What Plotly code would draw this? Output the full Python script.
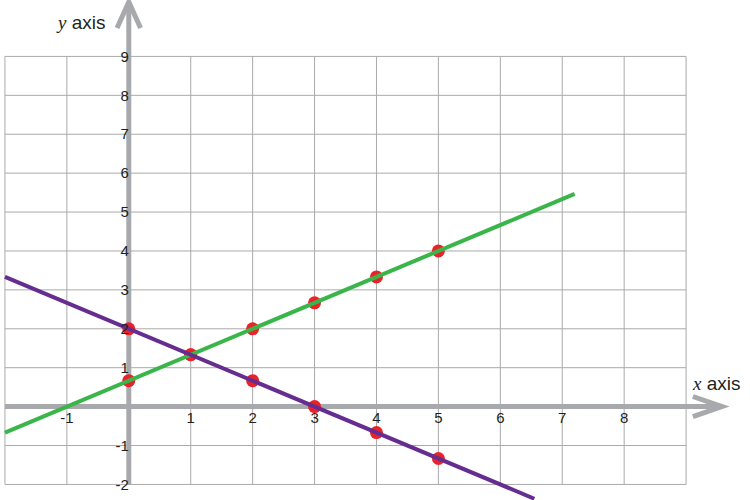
import plotly.graph_objects as go

# tick positions / labels
x_ticks = [-2, -1, 0, 1, 2, 3, 4, 5, 6, 7, 8, 9]
x_labels = ['', '-1', '', '1', '2', '3', '4', '5', '6', '7', '8', '']
y_ticks = [-2, -1, 0, 1, 2, 3, 4, 5, 6, 7, 8, 9]
y_labels = ['-2', '-1', '', '1', '2', '3', '4', '5', '6', '7', '8', '9']

# plotted points
pts_x = [0, 1, 2, 3, 4, 5]
green_y = [0.667, 1.333, 2.0, 2.667, 3.333, 4.0]
purple_y = [2.0, 1.333, 0.667, 0.0, -0.667, -1.333]

# line end points
green_line_x = [-2, 7.2]
green_line_y = [-0.667, 5.467]
purple_line_x = [-2, 6.55]
purple_line_y = [3.333, -2.367]

x_range = [-2.08, 10.0]
y_range = [-2.4, 10.45]

axis_gray = '#a7a9ac'
grid_gray = '#aaaaaa'
tick_font = dict(family='Liberation Sans, Arial, sans-serif', size=15, color='#231f20')
title_font = dict(family='Liberation Sans, Arial, sans-serif', size=19, color='#231f20')

fig = go.Figure()

fig.add_trace(go.Scatter(
    x=pts_x + pts_x, y=green_y + purple_y, mode='markers',
    marker=dict(color='#e8232a', size=13), hoverinfo='skip',
))
fig.add_trace(go.Scatter(
    x=green_line_x, y=green_line_y, mode='lines',
    line=dict(color='#3ab54a', width=4), hoverinfo='skip',
))
fig.add_trace(go.Scatter(
    x=purple_line_x, y=purple_line_y, mode='lines',
    line=dict(color='#662d91', width=4), hoverinfo='skip',
))

shapes = []
# grid
for xv in x_ticks:
    shapes.append(dict(type='line', xref='x', yref='y', x0=xv, x1=xv,
                       y0=y_ticks[0], y1=y_ticks[-1],
                       line=dict(color=grid_gray, width=1), layer='below'))
for yv in y_ticks:
    shapes.append(dict(type='line', xref='x', yref='y', y0=yv, y1=yv,
                       x0=x_ticks[0], x1=x_ticks[-1],
                       line=dict(color=grid_gray, width=1), layer='below'))

# axes with arrows
y_tip, x_tip = 10.4, 9.58
shapes.append(dict(type='line', xref='x', yref='y', x0=0, x1=0, y0=y_ticks[0], y1=y_tip - 0.05,
                   line=dict(color=axis_gray, width=5), layer='below'))
shapes.append(dict(type='line', xref='x', yref='y', y0=0, y1=0, x0=x_ticks[0], x1=x_tip - 0.05,
                   line=dict(color=axis_gray, width=5), layer='below'))
shapes.append(dict(type='path', xref='x', yref='y',
                   path=f'M -0.19,{y_tip - 0.67} L 0,{y_tip} L 0.19,{y_tip - 0.67}',
                   line=dict(color=axis_gray, width=5), layer='below'))
shapes.append(dict(type='path', xref='x', yref='y',
                   path=f'M {x_tip - 0.47},0.26 L {x_tip},0 L {x_tip - 0.47},-0.26',
                   line=dict(color=axis_gray, width=5), layer='below'))

fig.update_layout(
    width=750, height=500,
    margin=dict(l=0, r=2, t=0, b=0, autoexpand=False),
    paper_bgcolor='white', plot_bgcolor='white',
    showlegend=False,
    shapes=shapes,
    xaxis=dict(
        range=x_range, anchor='free', automargin=False,
        position=(0 - y_range[0]) / (y_range[1] - y_range[0]),
        tickmode='array', tickvals=x_ticks, ticktext=x_labels,
        showgrid=False, zeroline=False, showline=False, ticks='',
        tickfont=tick_font,
    ),
    yaxis=dict(
        range=y_range, anchor='free', automargin=False,
        position=(0 - x_range[0]) / (x_range[1] - x_range[0]),
        tickmode='array', tickvals=y_ticks, ticktext=y_labels,
        showgrid=False, zeroline=False, showline=False, ticks='',
        tickfont=tick_font,
    ),
    annotations=[
        dict(xref='paper', yref='paper', x=0.108, y=0.956, xanchor='center', yanchor='middle',
             text='<span style="font-family:\'Liberation Serif\';font-style:italic">y</span> axis',
             showarrow=False, font=title_font),
        dict(xref='paper', yref='paper', x=0.958, y=0.234, xanchor='center', yanchor='middle',
             text='<span style="font-family:\'Liberation Serif\';font-style:italic">x</span> axis',
             showarrow=False, font=title_font),
    ],
)

# drop the default page margin so the figure sits at the window's corner
fig.write_html('out.html', config={'displayModeBar': False},
               post_script="document.body.style.margin = '0';")
